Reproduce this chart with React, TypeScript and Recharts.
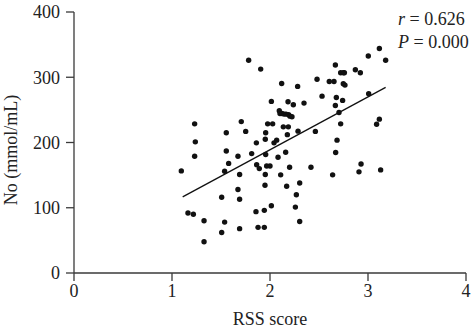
import React from 'react';
import { ScatterChart, Scatter, XAxis, YAxis, ReferenceLine } from 'recharts';

const rssScore = [
  1.095, 1.163, 1.218, 1.231, 1.238, 1.231, 1.327, 1.327, 1.507, 1.507,
  1.537, 1.537, 1.554, 1.554, 1.578, 1.673, 1.673, 1.69, 1.69, 1.69,
  1.707, 1.752, 1.782, 1.813, 1.861, 1.857, 1.864, 1.878, 1.891, 1.905,
  1.942, 1.942, 1.949, 1.952, 1.952, 1.956, 1.956, 1.966, 1.976, 2.0,
  2.014, 2.014, 2.027, 2.041, 2.068, 2.082, 2.095, 2.102, 2.109, 2.119,
  2.122, 2.136, 2.143, 2.16, 2.163, 2.17, 2.177, 2.184, 2.187, 2.19,
  2.2, 2.204, 2.224, 2.238, 2.259, 2.269, 2.282, 2.286, 2.303, 2.303,
  2.347, 2.418, 2.463, 2.48, 2.531, 2.605, 2.639, 2.653, 2.667, 2.667,
  2.67, 2.677, 2.684, 2.704, 2.721, 2.721, 2.741, 2.748, 2.748, 2.759,
  2.765, 2.871, 2.908, 2.922, 2.929, 3.003, 3.007, 3.088, 3.116, 3.116,
  3.129, 3.18,
];
const noValue = [
  156.5, 92, 90, 228.6, 201, 179, 80, 48, 116, 62,
  156, 78, 215, 187, 168, 128, 179, 151, 113, 68,
  232, 217, 326, 183, 199.5, 94, 166, 70, 160, 312.5,
  70, 96, 134.5, 151, 205, 215, 181.6, 164, 228.6, 164,
  263, 103, 228.6, 199.5, 203.6, 177.5, 248.6, 244.5, 150.4, 290.5,
  244.5, 224, 243.5, 185, 243.5, 133, 212, 262.4, 224, 242.5,
  162, 240.4, 239.4, 257.8, 101, 120, 286, 217.4, 138, 79,
  260.4, 162, 217, 297, 271, 293.6, 150.4, 293.6, 318.7, 256.8,
  184.7, 269, 203.6, 246, 228.6, 307, 264.5, 307, 290, 307,
  288, 311.5, 155, 307, 167, 332.5, 274.7, 228, 344, 235.8,
  158, 326,
];
const fitLine = [
  { x: 1.109, y: 116.6 },
  { x: 3.18, y: 284.4 },
];
const xTicks = [0, 1, 2, 3, 4];
const yTicks = [0, 100, 200, 300, 400];

const points = rssScore.map((x, i) => ({ x, y: noValue[i] }));

const FONT = '"Liberation Serif", "DejaVu Serif", serif';
const AXIS = '#3a3a3a';

const Dot = (props: any) => <circle cx={props.cx} cy={props.cy} r={2.7} fill="#111" />;

export default function App() {
  return (
    <div style={{ position: 'absolute', left: 0, top: 0, width: 474, height: 332, background: '#fff' }}>
      <ScatterChart width={474} height={332} margin={{ top: 12, right: 8, bottom: 0, left: 0 }}>
        <XAxis
          type="number"
          dataKey="x"
          domain={[0, 4]}
          ticks={xTicks}
          interval={0}
          height={59}
          tickSize={8}
          tickMargin={3}
          stroke={AXIS}
          strokeWidth={1.3}
          tick={{ fill: '#222', fontSize: 18, fontFamily: FONT }}
        />
        <YAxis
          type="number"
          dataKey="y"
          domain={[0, 400]}
          ticks={yTicks}
          interval={0}
          width={74}
          tickSize={8}
          tickMargin={6}
          stroke={AXIS}
          strokeWidth={1.3}
          tick={{ fill: '#222', fontSize: 18, fontFamily: FONT }}
        />
        <ReferenceLine segment={fitLine} stroke="#111" strokeWidth={1.3} ifOverflow="visible" />
        <Scatter data={points} shape={Dot} isAnimationActive={false} />
      </ScatterChart>
      <svg width={474} height={332} style={{ position: 'absolute', left: 0, top: 0, pointerEvents: 'none' }}>
        <text x={270} y={325} textAnchor="middle" fontSize={18} fontFamily={FONT} fill="#222">RSS score</text>
        <text
          x={0}
          y={0}
          transform="translate(17,150) rotate(-90)"
          textAnchor="middle"
          fontSize={18}
          fontFamily={FONT}
          fill="#222"
        >
          No (mmol/mL)
        </text>
        <text x={398} y={25} fontSize={18} fontFamily={FONT} fill="#222">
          <tspan fontStyle="italic">r</tspan> = 0.626
        </text>
        <text x={398} y={48} fontSize={18} fontFamily={FONT} fill="#222">
          <tspan fontStyle="italic">P</tspan> = 0.000
        </text>
      </svg>
    </div>
  );
}
